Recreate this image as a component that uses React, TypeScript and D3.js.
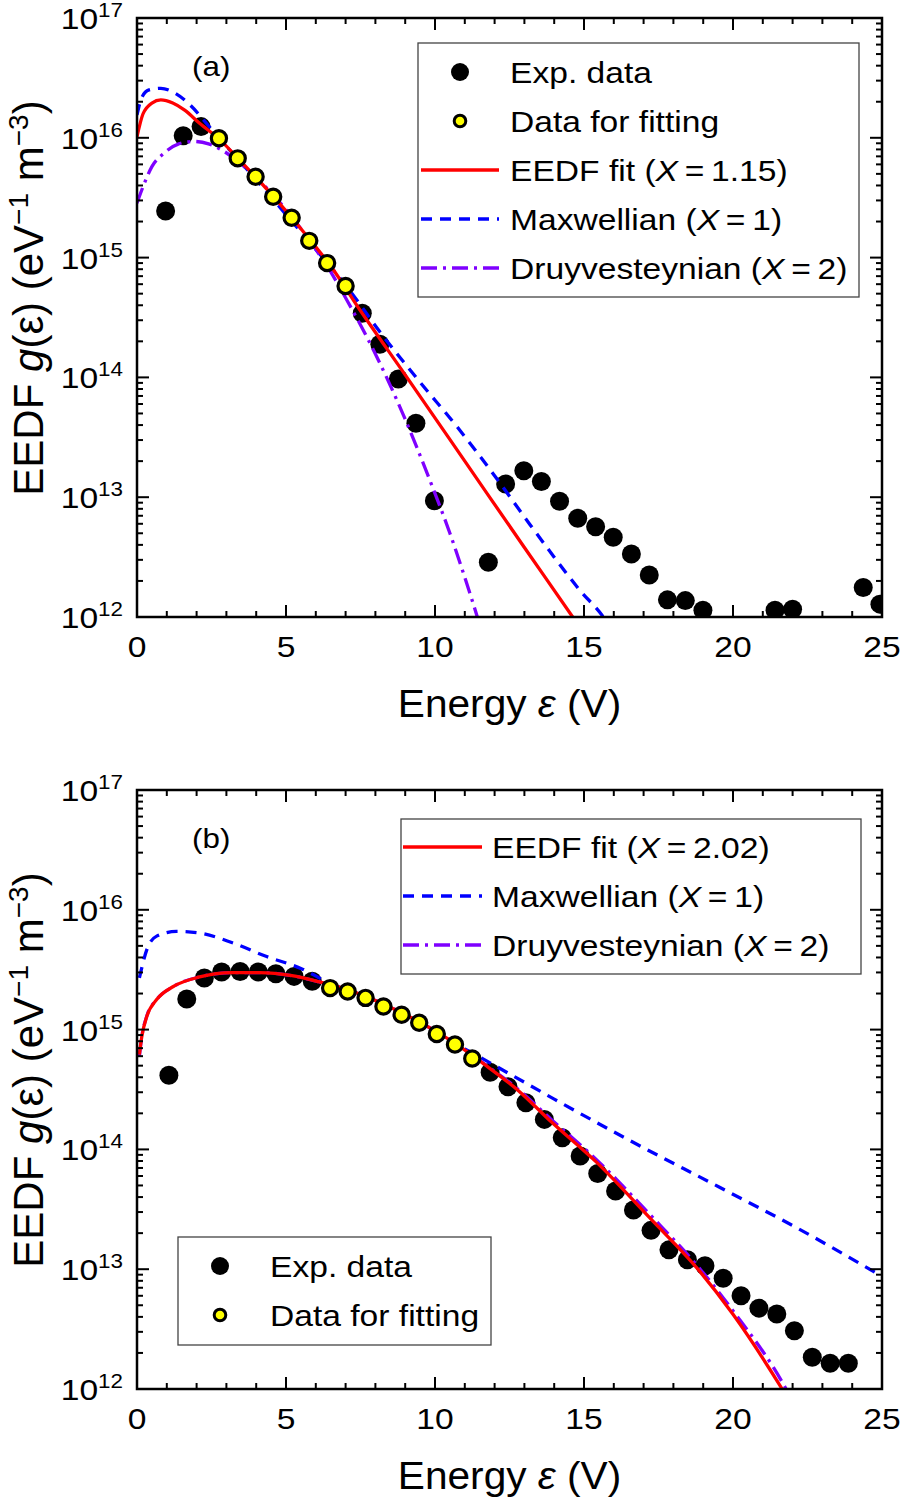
import React from 'react'
import * as d3 from 'd3'

type Pt = [number, number]

// ---------- panel (a) ----------
// measured EEDF points (eV, eV^-1 m^-3)
const expA: Pt[] = [
  [0.96, 2.45e15], [1.55, 1.04e16], [2.15, 1.24e16],
  [7.56, 3.43e14], [8.15, 1.89e14], [8.77, 9.7e13], [9.36, 4.14e13], [9.98, 9.35e12],
  [11.79, 2.86e12], [12.37, 1.29e13], [12.98, 1.66e13], [13.57, 1.35e13], [14.18, 9.25e12],
  [14.79, 6.67e12], [15.39, 5.67e12], [15.98, 4.63e12], [16.59, 3.36e12], [17.19, 2.24e12],
  [17.8, 1.39e12], [18.4, 1.37e12], [18.99, 1.14e12], [21.41, 1.14e12], [22.0, 1.16e12],
  [24.37, 1.76e12], [24.93, 1.28e12]
]
// subset used for the fit
const fitPtsA: Pt[] = [
  [2.75, 9.9e15], [3.38, 6.74e15], [3.98, 4.73e15], [4.57, 3.22e15],
  [5.19, 2.15e15], [5.78, 1.38e15], [6.38, 9.0e14], [7.0, 5.8e14]
]
const eedfA: Pt[] = [
  [0, 1.02e16], [0.2, 1.58e16], [0.5, 1.95e16], [0.8, 2.07e16], [1.2, 1.95e16], [1.6, 1.7e16],
  [2.1, 1.32e16], [2.75, 9.8e15], [3.5, 6.3e15], [4.5, 3.4e15], [5.5, 1.74e15], [6.5, 8.5e14],
  [7.5, 3.6e14], [9, 1.05e14], [11, 2.0e13], [13, 3.8e12], [14.62, 1.0e12], [14.8, 8.6e11]
]
const maxwellA: Pt[] = [
  [0, 1.55e16], [0.15, 2.14e16], [0.4, 2.51e16], [0.8, 2.59e16], [1.3, 2.34e16], [1.8, 1.86e16],
  [2.4, 1.26e16], [3.0, 8.5e15], [4.0, 4.47e15], [5.0, 2.29e15], [6.0, 1.17e15], [7.0, 5.9e14],
  [8.15, 2.4e14], [9.5, 9.1e13], [10.73, 3.9e13], [12.0, 1.51e13], [13.19, 5.9e12],
  [14.0, 3.16e12], [14.87, 1.66e12], [15.65, 1.0e12], [15.8, 8.8e11]
]
const druyvA: Pt[] = [
  [0, 2.85e15], [0.2, 3.89e15], [0.5, 5.75e15], [0.9, 7.41e15], [1.4, 8.91e15], [1.9, 9.33e15],
  [2.4, 8.91e15], [2.9, 7.76e15], [3.5, 6.03e15], [4.2, 4.17e15], [5.0, 2.51e15], [5.8, 1.38e15],
  [6.5, 7.59e14], [7.04, 4.43e14], [7.93, 1.7e14], [8.94, 4.85e13], [9.83, 1.38e13],
  [10.5, 5.0e12], [11.0, 2.14e12], [11.42, 1.0e12], [11.5, 8.6e11]
]

// ---------- panel (b) ----------
const expB: Pt[] = [
  [1.07, 4.16e14], [1.67, 1.8e15], [2.26, 2.7e15], [2.84, 3.03e15], [3.46, 3.06e15],
  [4.07, 3.03e15], [4.66, 2.93e15], [5.27, 2.78e15], [5.88, 2.53e15],
  [11.85, 4.4e14], [12.45, 3.33e14], [13.05, 2.45e14], [13.67, 1.78e14], [14.27, 1.25e14],
  [14.87, 8.8e13], [15.46, 6.3e13], [16.06, 4.5e13], [16.66, 3.12e13], [17.25, 2.11e13],
  [17.85, 1.45e13], [18.47, 1.2e13], [19.06, 1.07e13], [19.67, 8.4e12], [20.27, 6.0e12],
  [20.87, 4.73e12], [21.47, 4.22e12], [22.06, 3.06e12], [22.66, 1.84e12], [23.26, 1.64e12],
  [23.87, 1.64e12]
]
const fitPtsB: Pt[] = [
  [6.48, 2.22e15], [7.07, 2.08e15], [7.67, 1.84e15], [8.27, 1.56e15], [8.88, 1.33e15],
  [9.47, 1.14e15], [10.06, 9.2e14], [10.67, 7.5e14], [11.25, 5.73e14]
]
const eedfB: Pt[] = [
  [0.08, 6.2e14], [0.16, 8.7e14], [0.33, 1.29e15], [0.66, 1.78e15], [1.22, 2.29e15],
  [2.1, 2.75e15], [3.2, 2.99e15], [4.1, 2.99e15], [5.2, 2.82e15], [6.1, 2.51e15],
  [7.1, 2.14e15], [8.3, 1.62e15], [9.5, 1.15e15], [10.7, 7.6e14], [11.6, 5.25e14],
  [12.8, 3.09e14], [13.9, 1.7e14], [15.4, 7.9e13], [17.2, 2.69e13], [18.9, 9.5e12],
  [20.0, 4.2e12], [21.65, 1.0e12], [21.8, 8.7e11]
]
const maxwellB: Pt[] = [
  [0.08, 2.7e15], [0.33, 4.65e15], [0.66, 6.03e15], [1.33, 6.61e15], [2.1, 6.4e15],
  [3.2, 5.31e15], [4.35, 4.07e15], [5.5, 3.24e15], [6.5, 2.4e15], [8, 1.58e15],
  [9.5, 1.05e15], [11, 6.9e14], [12.5, 4.27e14], [14, 2.63e14], [16.5, 1.2e14],
  [19.5, 4.9e13], [22.25, 2.14e13], [25, 8.7e12]
]
const druyvB: Pt[] = [
  [0.08, 6.0e14], [0.16, 8.7e14], [0.33, 1.3e15], [0.66, 1.78e15], [1.22, 2.29e15],
  [2.1, 2.75e15], [3.2, 2.99e15], [4.1, 2.99e15], [5.2, 2.82e15], [6.1, 2.51e15],
  [7.1, 2.14e15], [8.3, 1.62e15], [9.5, 1.15e15], [10.7, 7.6e14], [11.6, 5.3e14],
  [12.8, 3.16e14], [13.9, 1.78e14], [15.4, 8.3e13], [17.2, 2.88e13], [18.9, 1.0e13],
  [20.0, 4.5e12], [21.78, 1.0e12], [21.9, 8.8e11]
]

const xTicks = [0, 5, 10, 15, 20, 25]
const yExps = [12, 13, 14, 15, 16, 17]

const FONT = '"Liberation Sans", Arial, Helvetica, sans-serif'
const SX = 1.12 // glyphs run a bit wide in this figure
const LEFT = 137
const RIGHT = 882
const PLOT_H = 599

const RED = '#ff0000'
const BLUE = '#0000ff'
const VIOLET = '#7f00ff'
const LW = 3.3
const BLUE_DASH = '11 8'
const VIOLET_DASH = '16 6 3 6'

type Entry = { kind: 'exp' | 'fit' | 'eedf' | 'maxwell' | 'druyv'; text: React.ReactNode }
type LegendSpec = {
  x: number; y: number; w: number; h: number
  row0: number; symX: number; lineX0: number; lineX1: number; textX: number
  entries: Entry[]
}

const TS = '\u2009' // thin space around "="
const xParam = (v: string) => (
  <>(<tspan fontStyle="italic">X</tspan>{TS}={TS}{v})</>
)

const Legend = ({ spec, top }: { spec: LegendSpec; top: number }) => (
  <g>
    <rect x={spec.x} y={top + spec.y} width={spec.w} height={spec.h}
      fill="#fff" stroke="#444" strokeWidth={1.3} />
    {spec.entries.map((e, i) => {
      const cy = top + spec.row0 + i * 49
      let sym: React.ReactNode = null
      if (e.kind === 'exp') sym = <circle cx={spec.symX} cy={cy} r={9} fill="#000" />
      if (e.kind === 'fit') sym = <circle cx={spec.symX} cy={cy} r={5.8} fill="#ffff00" stroke="#000" strokeWidth={3} />
      if (e.kind === 'eedf') sym = <line x1={spec.lineX0} x2={spec.lineX1} y1={cy} y2={cy} stroke={RED} strokeWidth={LW} />
      if (e.kind === 'maxwell') sym = <line x1={spec.lineX0} x2={spec.lineX1} y1={cy} y2={cy} stroke={BLUE} strokeWidth={LW} strokeDasharray={BLUE_DASH} />
      if (e.kind === 'druyv') sym = <line x1={spec.lineX0} x2={spec.lineX1} y1={cy} y2={cy} stroke={VIOLET} strokeWidth={LW} strokeDasharray={VIOLET_DASH} />
      return (
        <g key={i}>
          {sym}
          <text transform={`translate(${spec.textX},${cy + 11}) scale(${SX},1)`} fontSize={30}>
            {e.text}
          </text>
        </g>
      )
    })}
  </g>
)

type PanelProps = {
  top: number
  id: string
  label: string
  exp: Pt[]
  fitPts: Pt[]
  eedf: Pt[]
  maxwell: Pt[]
  druyv: Pt[]
  legends: LegendSpec[]
}

const Panel = ({ top, id, label, exp, fitPts, eedf, maxwell, druyv, legends }: PanelProps) => {
  const bottom = top + PLOT_H
  const x = d3.scaleLinear().domain([0, 25]).range([LEFT, RIGHT])
  const y = d3.scaleLog().domain([1e12, 1e17]).range([bottom, top])
  const line = d3
    .line<Pt>()
    .x(d => x(d[0]))
    .y(d => y(d[1]))
    .curve(d3.curveMonotoneX)

  const minorX = d3.range(0, 26).filter(v => v % 5 !== 0)
  const minorY: number[] = []
  for (let e = 12; e < 17; e++) for (let k = 2; k < 10; k++) minorY.push(k * 10 ** e)

  const clip = `clip-${id}`
  return (
    <g>
      <defs>
        <clipPath id={clip}>
          <rect x={LEFT} y={top} width={RIGHT - LEFT} height={PLOT_H} />
        </clipPath>
      </defs>

      <g clipPath={`url(#${clip})`}>
        {exp.map((d, i) => (
          <circle key={i} cx={x(d[0])} cy={y(d[1])} r={9.5} fill="#000" />
        ))}
        <path d={line(maxwell) ?? ''} fill="none" stroke={BLUE} strokeWidth={LW} strokeDasharray={BLUE_DASH} />
        <path d={line(druyv) ?? ''} fill="none" stroke={VIOLET} strokeWidth={LW} strokeDasharray={VIOLET_DASH} />
        <path d={line(eedf) ?? ''} fill="none" stroke={RED} strokeWidth={LW} />
        {fitPts.map((d, i) => (
          <circle key={i} cx={x(d[0])} cy={y(d[1])} r={7.6} fill="#ffff00" stroke="#000" strokeWidth={3.2} />
        ))}
      </g>

      {/* ticks on all four sides, pointing inward */}
      <g stroke="#000" strokeWidth={2}>
        {xTicks.map(v => (
          <g key={`xM${v}`}>
            <line x1={x(v)} x2={x(v)} y1={bottom} y2={bottom - 12} />
            <line x1={x(v)} x2={x(v)} y1={top} y2={top + 12} />
          </g>
        ))}
        {minorX.map(v => (
          <g key={`xm${v}`}>
            <line x1={x(v)} x2={x(v)} y1={bottom} y2={bottom - 6} />
            <line x1={x(v)} x2={x(v)} y1={top} y2={top + 6} />
          </g>
        ))}
        {yExps.map(e => (
          <g key={`yM${e}`}>
            <line x1={LEFT} x2={LEFT + 12} y1={y(10 ** e)} y2={y(10 ** e)} />
            <line x1={RIGHT} x2={RIGHT - 12} y1={y(10 ** e)} y2={y(10 ** e)} />
          </g>
        ))}
        {minorY.map(v => (
          <g key={`ym${v}`}>
            <line x1={LEFT} x2={LEFT + 6} y1={y(v)} y2={y(v)} />
            <line x1={RIGHT} x2={RIGHT - 6} y1={y(v)} y2={y(v)} />
          </g>
        ))}
      </g>
      <rect x={LEFT} y={top} width={RIGHT - LEFT} height={PLOT_H} fill="none" stroke="#000" strokeWidth={2.5} />

      {xTicks.map(v => (
        <text key={`xl${v}`} transform={`translate(${x(v)},${bottom + 40}) scale(${SX},1)`}
          textAnchor="middle" fontSize={30}>{v}</text>
      ))}
      {yExps.map(e => (
        <text key={`yl${e}`} transform={`translate(${LEFT - 14},${y(10 ** e) + 11}) scale(${SX},1)`}
          textAnchor="end" fontSize={30}>
          10<tspan dy={-12} fontSize={20}>{e}</tspan>
        </text>
      ))}

      <text transform={`translate(${(LEFT + RIGHT) / 2},${top + 699}) scale(1.07,1)`}
        textAnchor="middle" fontSize={38}>
        Energy <tspan fontStyle="italic">ε</tspan> (V)
      </text>
      <text transform={`translate(43,${top + 280}) rotate(-90)`}
        textAnchor="middle" fontSize={42}>
        EEDF <tspan fontStyle="italic">g</tspan>(ε) (eV<tspan dy={-15} fontSize={28}>−1</tspan>
        <tspan dy={15}> m</tspan><tspan dy={-15} fontSize={28}>−3</tspan><tspan dy={15}>)</tspan>
      </text>

      <text transform={`translate(192,${top + 58}) scale(${SX},1)`} fontSize={28}>{label}</text>

      {legends.map((l, i) => <Legend key={i} spec={l} top={top} />)}
    </g>
  )
}

const legendA: LegendSpec = {
  x: 418, y: 25, w: 441, h: 254, row0: 54, symX: 460, lineX0: 421, lineX1: 499, textX: 510,
  entries: [
    { kind: 'exp', text: 'Exp. data' },
    { kind: 'fit', text: 'Data for fitting' },
    { kind: 'eedf', text: <>EEDF fit {xParam('1.15')}</> },
    { kind: 'maxwell', text: <>Maxwellian {xParam('1')}</> },
    { kind: 'druyv', text: <>Druyvesteynian {xParam('2')}</> }
  ]
}
const legendBLines: LegendSpec = {
  x: 401, y: 29, w: 460, h: 155, row0: 57, symX: 0, lineX0: 403, lineX1: 482, textX: 492,
  entries: [
    { kind: 'eedf', text: <>EEDF fit {xParam('2.02')}</> },
    { kind: 'maxwell', text: <>Maxwellian {xParam('1')}</> },
    { kind: 'druyv', text: <>Druyvesteynian {xParam('2')}</> }
  ]
}
const legendBPoints: LegendSpec = {
  x: 178, y: 447, w: 313, h: 108, row0: 476, symX: 220, lineX0: 0, lineX1: 0, textX: 270,
  entries: [
    { kind: 'exp', text: 'Exp. data' },
    { kind: 'fit', text: 'Data for fitting' }
  ]
}

export default function App() {
  return (
    <svg width={900} height={1498} viewBox="0 0 900 1498"
      style={{ position: 'absolute', left: 0, top: 0, background: '#fff' }}
      fontFamily={FONT}>
      <rect width={900} height={1498} fill="#fff" />
      <Panel top={18} id="a" label="(a)" exp={expA} fitPts={fitPtsA}
        eedf={eedfA} maxwell={maxwellA} druyv={druyvA} legends={[legendA]} />
      <Panel top={790} id="b" label="(b)" exp={expB} fitPts={fitPtsB}
        eedf={eedfB} maxwell={maxwellB} druyv={druyvB} legends={[legendBLines, legendBPoints]} />
    </svg>
  )
}
